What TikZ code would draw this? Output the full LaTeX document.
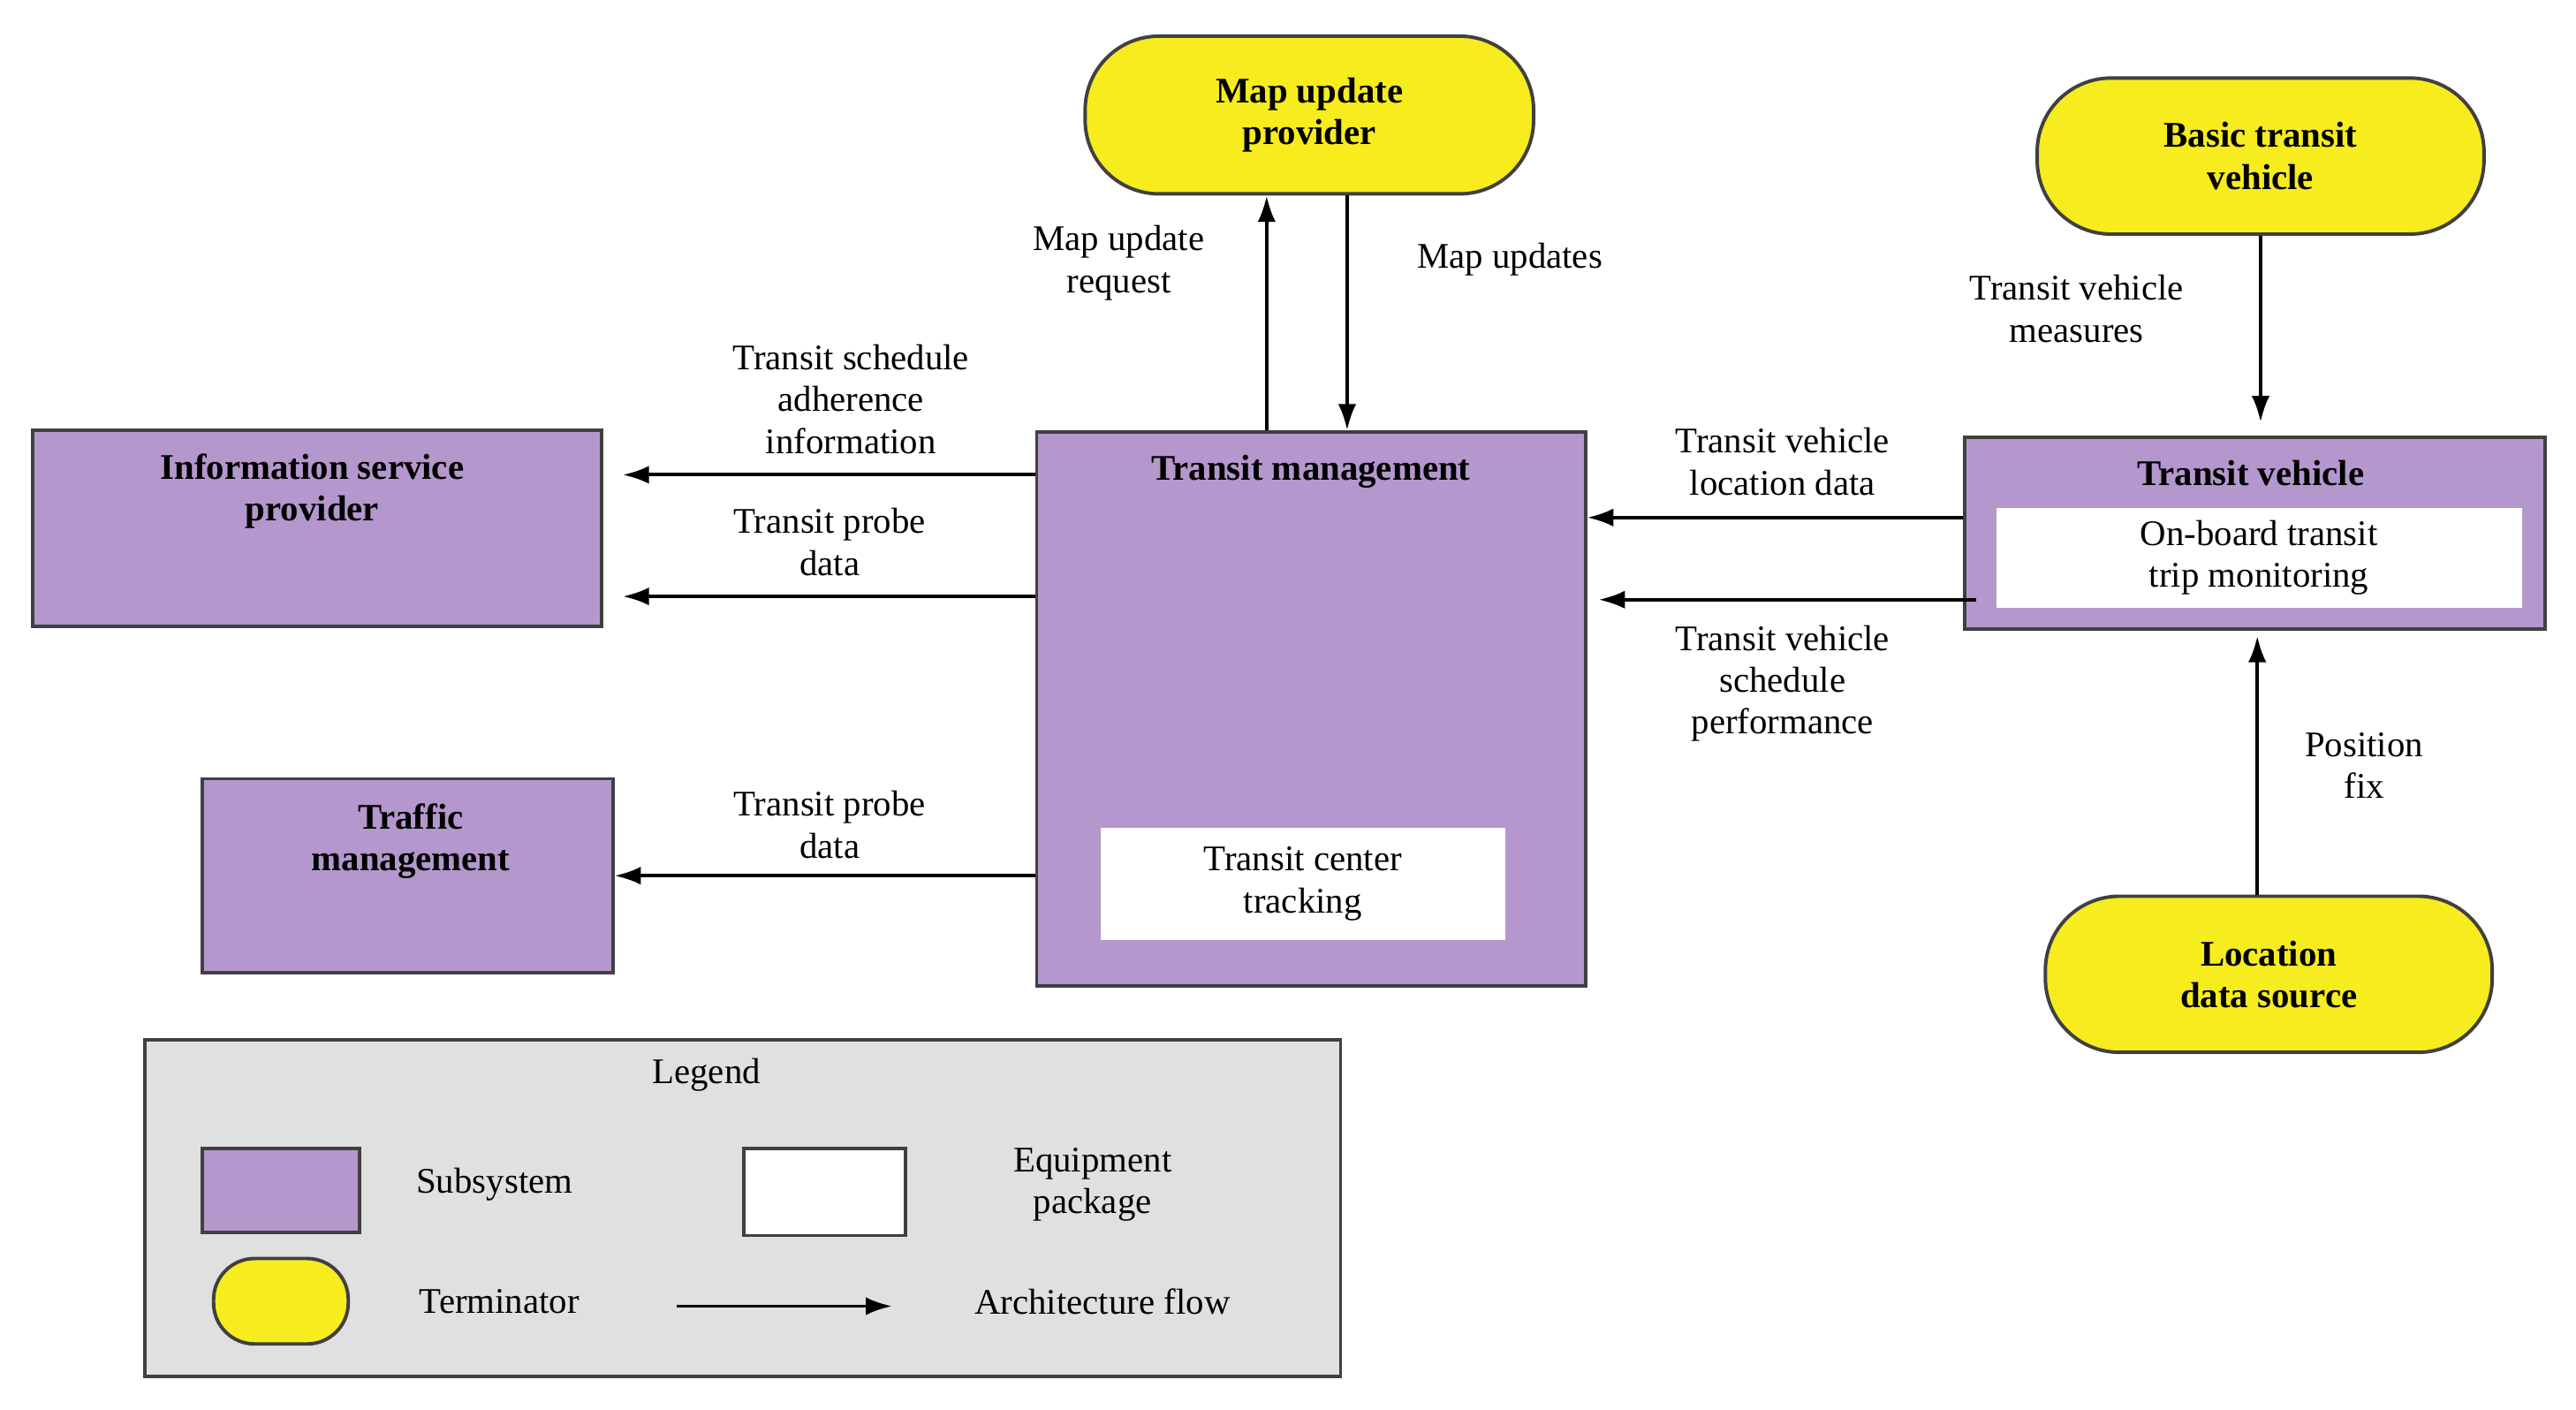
\documentclass[tikz,border=0pt]{standalone}
\usepackage{fontspec}
\setmainfont{Liberation Serif}
\usetikzlibrary{arrows.meta}
\definecolor{sub}{HTML}{B497CC}
\definecolor{term}{HTML}{F6EC1E}
\definecolor{leg}{HTML}{E0E0E0}
\begin{document}
\begin{tikzpicture}[x=0.02cm,y=-0.02cm,font=\fontsize{12.5}{14.5}\selectfont,
  subsys/.style={draw=black!75,line width=1.2pt,fill=sub,inner sep=0pt},
  equip/.style={draw=none,fill=white,inner sep=0pt,align=center},
  termin/.style={draw=black!75,line width=1.2pt,fill=term,rounded corners=0.9cm,inner sep=0pt,align=center,font=\fontsize{12.5}{14.5}\selectfont\bfseries},
  lbl/.style={align=center,inner sep=0pt},
  arr/.style={line width=1.2pt,-{Latex[length=0.32cm,width=0.22cm]}}]
\useasboundingbox (0,0) rectangle (1568,858);
% terminators
\node[termin,minimum width=273*0.02cm,minimum height=96*0.02cm] (mup) at (797,70) {Map update\\provider};
\node[termin,minimum width=272*0.02cm,minimum height=95*0.02cm] (btv) at (1376,95) {Basic transit\\vehicle};
\node[termin,minimum width=272*0.02cm,minimum height=95*0.02cm] (lds) at (1381,593) {Location\\data source};
% subsystems
\node[subsys,minimum width=346*0.02cm,minimum height=119*0.02cm] (isp) at (193,321.5) {};
\node[lbl,font=\fontsize{12.5}{14.5}\selectfont\bfseries] at (190,299) {Information service\\provider};
\node[subsys,minimum width=250*0.02cm,minimum height=118*0.02cm] (tfm) at (248,533) {};
\node[lbl,font=\fontsize{12.5}{14.5}\selectfont\bfseries] at (250,512) {Traffic\\management};
\node[subsys,minimum width=334*0.02cm,minimum height=337*0.02cm] (tm) at (798,431.5) {};
\node[lbl,font=\fontsize{12.5}{14.5}\selectfont\bfseries] at (798,287) {Transit management};
\node[equip,minimum width=246*0.02cm,minimum height=68*0.02cm] (tct) at (793,538) {Transit center\\tracking};
\node[subsys,minimum width=353*0.02cm,minimum height=117*0.02cm] (tv) at (1372.5,324.5) {};
\node[lbl,font=\fontsize{12.5}{14.5}\selectfont\bfseries] at (1370,288) {Transit vehicle};
\node[equip,minimum width=320*0.02cm,minimum height=61*0.02cm] (obt) at (1375,339.5) {On-board transit\\trip monitoring};
% arrows
\draw[arr] (tm.north -| 771,0) -- (mup.south -| 771,0);
\node[lbl] at (681,160) {Map update\\request};
\draw[arr] (mup.south -| 820,0) -- (tm.north -| 820,0);
\node[lbl] at (919,158) {Map updates};
\draw[arr] (tm.west |- 0,289) -- ([xshift=12*0.02cm]isp.east |- 0,289);
\node[lbl] at (518,243) {Transit schedule\\adherence\\information};
\draw[arr] (tm.west |- 0,363) -- ([xshift=12*0.02cm]isp.east |- 0,363);
\node[lbl] at (505,330) {Transit probe\\data};
\draw[arr] (tm.west |- 0,533) -- (tfm.east |- 0,533);
\node[lbl] at (505,502) {Transit probe\\data};
\draw[arr] (tv.west |- 0,315) -- (tm.east |- 0,315);
\node[lbl] at (1085,281) {Transit vehicle\\location data};
\draw[arr] ([xshift=8*0.02cm]tv.west |- 0,365) -- ([xshift=7*0.02cm]tm.east |- 0,365);
\node[lbl] at (1085,416) {Transit vehicle\\schedule\\performance};
\draw[arr] (btv.south -| 1376,0) -- ([yshift=8*0.02cm]tv.north -| 1376,0);
\node[lbl] at (1264,188) {Transit vehicle\\measures};
\draw[arr] (lds.north -| 1374,0) -- ([yshift=-3*0.02cm]tv.south -| 1374,0);
\node[lbl] at (1439,466) {Position\\fix};
% legend
\node[draw=black!75,line width=1.2pt,fill=leg,minimum width=728*0.02cm,minimum height=205*0.02cm,inner sep=0pt] (legend) at (452,735.5) {};
\node[lbl] at (430,654) {Legend};
\node[subsys,minimum width=96*0.02cm,minimum height=51*0.02cm] (ls) at (171,724.5) {};
\node[lbl] at (301,721) {Subsystem};
\node[draw=black!75,line width=1.2pt,fill=white,minimum width=98*0.02cm,minimum height=53*0.02cm,inner sep=0pt] (le) at (502,725.5) {};
\node[lbl] at (665,721) {Equipment\\package};
\node[termin,minimum width=82*0.02cm,minimum height=52*0.02cm,rounded corners=0.5cm] (lt) at (171,792) {};
\node[lbl] at (304,792) {Terminator};
\coordinate (la1) at (412,795);
\coordinate (la2) at (543,795);
\draw[arr] (la1) -- (la2);
\node[lbl] at (671,792) {Architecture flow};
\end{tikzpicture}
\end{document}
